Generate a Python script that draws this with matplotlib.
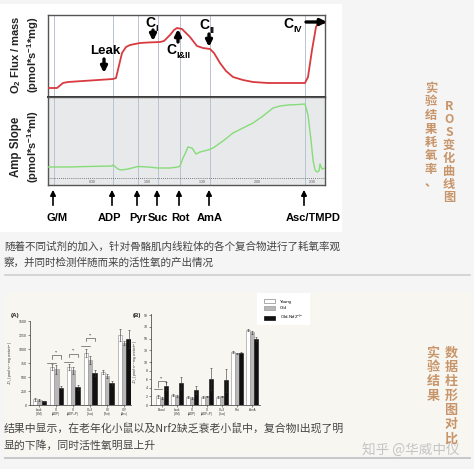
import matplotlib
matplotlib.use('Agg')
import matplotlib.pyplot as plt
from matplotlib.patches import Rectangle, Patch
from matplotlib.transforms import offset_copy
import numpy as np

W, H = 474, 469
plt.rcParams['font.family'] = ['Liberation Sans', 'Noto Sans CJK SC', 'DejaVu Sans']
plt.rcParams['mathtext.fontset'] = 'custom'
plt.rcParams['mathtext.rm'] = 'Liberation Sans'
plt.rcParams['mathtext.bf'] = 'Liberation Sans:bold'
plt.rcParams['mathtext.it'] = 'Liberation Sans:italic'

# ---------------- data ----------------
# O2 flux trace (time units, arbitrary flux units)
flux_t = [0, 9, 15, 20, 35, 50, 65, 68, 74, 78, 82, 92, 100, 112, 116, 122, 126, 129, 134, 138, 142, 149,
          155, 162, 166, 172, 178, 185, 195, 205, 220, 235, 250, 257, 260, 264, 268, 270, 277]
flux_v = [9, 9, 14, 15, 16, 17, 18, 19, 44, 50, 52, 54, 54.5, 55, 56, 62, 67, 69, 68, 64, 60, 51,
          49, 48, 44, 34, 26, 20, 17, 15, 14, 14, 14, 14, 20, 47, 70, 74, 74]
# ROS (amp slope) trace
ros_t = [0, 20, 40, 64, 65, 67, 70, 73, 80, 90, 100, 110, 122, 130, 132, 135, 137, 140, 144, 148, 152, 160,
         165, 175, 185, 195, 205, 215, 225, 232, 240, 250, 257, 260, 263, 265, 267, 269, 271, 272, 274, 277]
ros_v = [18, 18, 18.5, 19, 20, 18.5, 16, 15, 16, 18.5, 18, 17, 17, 18, 19, 27, 31, 38, 37, 31, 33, 35,
         37, 44, 52, 57, 62, 69, 77, 79, 80, 80.5, 81, 70, 45, 25, 15, 13, 14, 21, 16, 17]
event_labels = ['G/M', 'ADP', 'Pyr', 'Suc', 'Rot', 'AmA', 'Asc/TMPD']
event_t = [6, 65, 90, 110, 132, 162, 257]
time_ticks = [44, 99, 154, 209, 264]
time_tick_labels = ['0:30', '1:00', '1:30', '2:00', '2:30']

# Bar chart (A)
groupsA = ['Leak\n(GM)', 'CI\n(ADP)', 'CI\n(ADP+P)', 'CI+II\n(Suc)', 'CII\n(Rot)', 'CIV\n(Asc)']
youngA = [100, 680, 680, 930, 592, 1256]
oldA = [90, 640, 622, 800, 515, 1108]
nrfA = [70, 308, 314, 575, 397, 1185]
youngA_err = [20, 50, 50, 70, 30, 110]
oldA_err = [15, 80, 60, 70, 30, 40]
nrfA_err = [10, 30, 40, 50, 40, 160]
yticksA = [0, 250, 500, 750, 1000, 1250, 1500]

# Bar chart (B)
groupsB = ['Basal', 'Leak\n(GM)', 'CI\n(ADP)', 'CI\n(ADP+P)', 'CI+II\n(Suc)', 'Rot', 'AmA']
youngB = [2.0, 2.3, 1.8, 1.8, 1.8, 27.3, 65]
oldB = [1.6, 2.1, 1.7, 2.0, 2.0, 24.6, 61]
nrfB = [4.4, 5.1, 3.5, 6.1, 5.7, 26.2, 49]
youngB_err = [0.3, 0.3, 0.2, 0.2, 0.2, 1.5, 2.0]
oldB_err = [0.2, 0.2, 0.2, 0.2, 0.2, 1.0, 2.5]
nrfB_err = [1.0, 1.4, 0.9, 2.6, 2.6, 1.0, 3.0]
legend_labels = ['Young', 'Old', 'Old-Nrf2$^{-/-}$']

# ---------------- figure ----------------
fig = plt.figure(figsize=(W / 100, H / 100), dpi=100, facecolor='#f5f5f5')


def rect(x0, y0, x1, y1):
    return [x0 / W, 1 - y1 / H, (x1 - x0) / W, (y1 - y0) / H]


def ftext(x, y, s, **kw):
    return fig.text(x / W, 1 - y / H, s, **kw)


# background decoration
ax_bg = fig.add_axes([0, 0, 1, 1], zorder=-10)
ax_bg.set_xlim(0, W)
ax_bg.set_ylim(H, 0)
ax_bg.axis('off')
ax_bg.add_patch(Rectangle((0, 4), 342, 228, color='white', lw=0))
ax_bg.add_patch(Rectangle((5, 293), 467, 162, color='#f8f6f1', lw=0))
ax_bg.add_patch(Rectangle((257, 293), 53, 32, color='white', lw=0))
ax_bg.plot([5, 470], [275, 275], color='#cfcfcf', lw=1.2)
ax_bg.plot([5, 470], [458, 458], color='#c8c8c8', lw=1.4)

# ---------- top trace panels ----------
ax_top = fig.add_axes(rect(48, 15, 325, 97))
ax_low = fig.add_axes(rect(48, 97, 325, 185))
for ax in (ax_top, ax_low):
    ax.set_xlim(0, 277)
    ax.set_xticks([])
    ax.set_yticks([])
    for sp in ax.spines.values():
        sp.set_color('#555555')
        sp.set_linewidth(1.0)
    for t in event_t:
        ax.axvline(t, color='#b9c3cf', lw=0.7, zorder=1)
ax_top.set_ylim(0, 82)
ax_low.set_ylim(0, 88)
ax_low.set_facecolor('#e8e9eb')
ax_top.spines['bottom'].set_linewidth(1.4)
ax_top.spines['bottom'].set_color('#333333')

ax_top.plot(flux_t, flux_v, color='#d83a40', lw=1.3, zorder=3)
ax_low.plot(ros_t, ros_v, color='#86dc78', lw=1.0, zorder=3)

# dotted time axis
ax_low.axhline(7, color='#555555', lw=0.6, ls=(0, (1, 1.5)), zorder=2)
for tt, tl in zip(time_ticks, time_tick_labels):
    ax_low.text(tt, 3.5, tl, fontsize=2.5, ha='center', va='center', color='#555555')

# y labels
ftext(16.5, 55, r'$\mathbf{O_2}$ Flux / mass', rotation=90, ha='center', va='center',
      fontsize=8, fontweight='bold', color='#222222')
ftext(33.5, 55, r'(pmol*s$^{\mathbf{-1}}$*mg)', rotation=90, ha='center', va='center',
      fontsize=8, fontweight='bold', color='#222222')
ftext(16.5, 147, 'Amp Slope', rotation=90, ha='center', va='center',
      fontsize=8.3, fontweight='bold', color='#222222')
ftext(33.5, 147, r'(pmol*s$^{\mathbf{-1}}$*ml)', rotation=90, ha='center', va='center',
      fontsize=8, fontweight='bold', color='#222222')


def clabel(ax, x, y, sub):
    ax.text(x, y, 'C', fontsize=10, fontweight='bold', ha='right', va='center')
    tr = offset_copy(ax.transData, fig=fig, x=0.5, y=-4, units='points')
    ax.text(x, y, sub, fontsize=6.5, fontweight='bold', ha='left', va='center', transform=tr)


# annotations on the flux trace
big = dict(arrowstyle='-|>', lw=2.4, color='black', mutation_scale=9, shrinkA=0, shrinkB=0)
ax_top.text(57, 46, 'Leak', fontsize=9.5, fontweight='bold', ha='center', va='center')
ax_top.annotate('', xy=(56, 24), xytext=(56, 38), arrowprops=big)
clabel(ax_top, 107, 74, 'I')
ax_top.annotate('', xy=(105, 56), xytext=(105, 67), arrowprops=big)
ax_top.annotate('', xy=(130, 68), xytext=(130, 55), arrowprops=big)
clabel(ax_top, 128, 47, 'I&II')
clabel(ax_top, 161, 72, 'II')
ax_top.annotate('', xy=(161, 50), xytext=(161, 63), arrowprops=big)
clabel(ax_top, 245, 73, 'IV')
ax_top.annotate('', xy=(279, 75), xytext=(258, 75), arrowprops=big, annotation_clip=False)

# event arrows below
small = dict(arrowstyle='-|>', lw=1.2, color='black', mutation_scale=8, shrinkA=0, shrinkB=0)
label_dx = [3, -4, 0, 0, 0, 0, 8]
for t, lab, dx in zip(event_t, event_labels, label_dx):
    ax_low.annotate('', xy=(t - 1, -0.055), xycoords=('data', 'axes fraction'),
                    xytext=(t - 1, -0.23), textcoords=('data', 'axes fraction'),
                    arrowprops=small, annotation_clip=False)
    ax_low.text(t + dx, -0.37, lab, transform=ax_low.get_xaxis_transform(),
                fontsize=8, fontweight='bold', ha='center', va='center')

# captions
cjk = ['Noto Sans CJK SC', 'DejaVu Sans']
ftext(4, 247, '随着不同试剂的加入，针对骨骼肌内线粒体的各个复合物进行了耗氧率观',
      family=cjk, fontsize=7.6, color='#444444', va='center', ha='left')
ftext(4, 263, '察，并同时检测伴随而来的活性氧的产出情况',
      family=cjk, fontsize=7.6, color='#444444', va='center', ha='left')

brown = '#c8956a'
ftext(431, 82, '\n'.join('实验结果耗氧率、'), family=cjk, fontsize=8.8, color=brown,
      fontweight='bold', ha='center', va='top', linespacing=1.05)
ftext(449, 100, '\n'.join('ROS变化曲线图'), family=cjk, fontsize=8.8, color=brown,
      fontweight='bold', ha='center', va='top', linespacing=1.0)

# ---------- bar charts ----------
cw, cg, ck = 'white', '#b8b8b8', '#111111'
edge = '#8a8a8a'


def style_small(ax):
    for s in ('top', 'right'):
        ax.spines[s].set_visible(False)
    for s in ('left', 'bottom'):
        ax.spines[s].set_linewidth(0.5)
        ax.spines[s].set_color('#333333')
    ax.tick_params(length=1.5, width=0.4, labelsize=2.5, pad=1, colors='#333333')
    ax.set_facecolor('none')


def draw_bars(ax, x, y, o, n, ye, oe, ne, bw):
    ek = dict(elinewidth=0.4, capsize=0.8, capthick=0.4, ecolor='#333333')
    ax.bar(x - bw, y, bw, color=cw, edgecolor=edge, lw=0.4, yerr=ye, error_kw=ek)
    ax.bar(x, o, bw, color=cg, edgecolor='#999999', lw=0.4, yerr=oe, error_kw=ek)
    ax.bar(x + bw, n, bw, color=ck, edgecolor=ck, lw=0.4, yerr=ne, error_kw=ek)


xA = np.arange(len(groupsA))
axA = fig.add_axes(rect(30, 321, 131, 405))
style_small(axA)
bwA = 0.26
draw_bars(axA, xA, youngA, oldA, nrfA, youngA_err, oldA_err, nrfA_err, bwA)
axA.set_xlim(-0.55, 5.4)
axA.set_ylim(0, 1500)
axA.set_yticks(yticksA)
axA.set_xticks(xA)
axA.set_xticklabels(groupsA, fontsize=2.2, linespacing=0.9)
# significance brackets
for g, lvl in zip([1, 2, 3], [890, 915, 1195]):
    axA.plot([g - bwA, g - bwA, g + bwA, g + bwA], [lvl - 60, lvl, lvl, lvl - 60], color='#333333', lw=0.4)
    axA.text(g, lvl + 15, '**', fontsize=3, ha='center', va='bottom', color='#333333')
    axA.plot([g - 2 * bwA, g], [lvl - 140, lvl - 140], color='#333333', lw=0.4)
axA.text(-0.15, 0.5, r'$J$O$_2$ (pmol·s$^{-1}$·mg wet wt$^{-1}$)', transform=axA.transAxes,
         rotation=90, fontsize=2.5, ha='right', va='center', color='#333333')
ftext(11, 316, '(A)', fontsize=4.5, fontweight='bold', ha='left', va='center', color='#222222')

xB = np.arange(len(groupsB))
axBl = fig.add_axes(rect(151, 362, 260, 405))
axBu = fig.add_axes(rect(151, 314, 260, 362))
bwB = 0.27
for ax in (axBl, axBu):
    style_small(ax)
    draw_bars(ax, xB, youngB, oldB, nrfB, youngB_err, oldB_err, nrfB_err, bwB)
    ax.set_xlim(-0.73, 6.53)
axBl.set_ylim(0, 10)
axBl.set_yticks([0, 2, 4, 6, 8, 10])
axBl.set_xticks(xB)
axBl.set_xticklabels(groupsB, fontsize=2.2, linespacing=0.9)
axBu.set_ylim(10, 92)
axBu.set_yticks([30, 50, 70, 90])
axBu.set_xticks([])
axBu.spines['bottom'].set_visible(False)
axBl.plot([-bwB, -bwB, bwB, bwB], [4.3, 5.6, 5.6, 4.9], color='#333333', lw=0.4)
axBl.text(0, 5.7, '**', fontsize=3, ha='center', va='bottom', color='#333333')
axBl.plot([-2 * bwB, 0], [3.8, 3.8], color='#333333', lw=0.4)
axBl.text(-0.1, 1.0, r'$J$O$_2$ (pmol·s$^{-1}$·mg wet wt$^{-1}$)', transform=axBl.transAxes,
          rotation=90, fontsize=2.5, ha='right', va='center', color='#333333')
ftext(133, 316, '(B)', fontsize=4.3, fontweight='bold', ha='left', va='center', color='#222222')

handles = [Patch(facecolor=cw, edgecolor=edge, lw=0.5), Patch(facecolor=cg, edgecolor='#999999', lw=0.5),
           Patch(facecolor=ck, edgecolor=ck, lw=0.5)]
fig.legend(handles, legend_labels, loc='upper left', bbox_to_anchor=(262 / W, 1 - 297 / H),
           frameon=False, fontsize=3.2, handlelength=2.4, handleheight=0.9, labelspacing=0.55,
           handletextpad=1.2, borderpad=0)

ftext(4, 428, '结果中显示，在老年化小鼠以及Nrf2缺乏衰老小鼠中，复合物I出现了明',
      family=cjk, fontsize=7.8, color='#444444', va='center', ha='left')
ftext(4, 446, '显的下降，同时活性氧明显上升',
      family=cjk, fontsize=7.8, color='#444444', va='center', ha='left')
ftext(362, 450, '知乎 @华威中仪', family=cjk, fontsize=9.8, color='#c4c4c4', va='center', ha='left')

ftext(433, 346, '\n'.join('实验结果'), family=cjk, fontsize=9.4, color=brown,
      fontweight='bold', ha='center', va='top', linespacing=1.02)
ftext(451, 346, '\n'.join('数据柱形图对比'), family=cjk, fontsize=9.4, color=brown,
      fontweight='bold', ha='center', va='top', linespacing=1.02)

fig.savefig('out.png', dpi=100, facecolor=fig.get_facecolor())
